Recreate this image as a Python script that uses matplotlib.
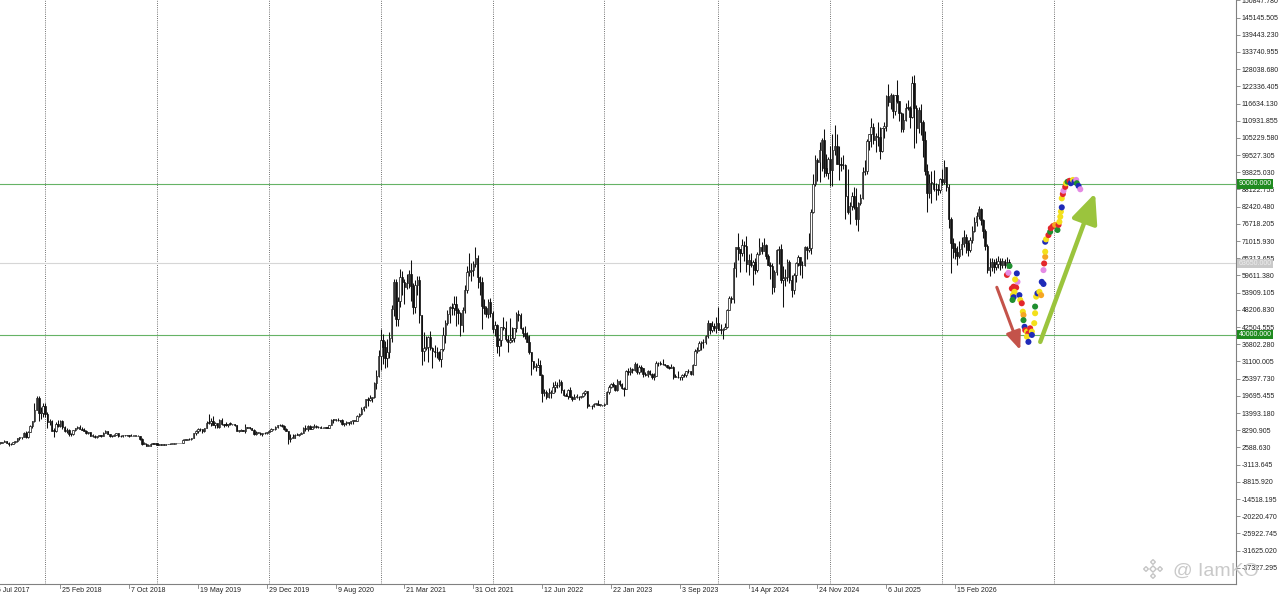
import numpy as np
import pandas as pd
import matplotlib
matplotlib.use("Agg")
import matplotlib.pyplot as plt
import matplotlib.transforms as mtrans
from matplotlib.patches import Polygon

# ---------------- data (weekly BTC candles, thousands USD) ----------------
start_date = "2017-08-06"
first_open = 3.25

close_2017 = [4.07,4.1,4.35,4.6,4.2,3.7,3.6,4.35,4.6,5.7,6.0,5.9,7.4,5.95,7.8,9.7,11.3,15.0,19.1,14.0,14.1,16.2]
high_2017 = [4.18,4.5,4.4,4.98,4.7,4.3,4.1,4.4,4.6,5.85,6.2,6.1,7.6,7.9,8.1,9.9,11.4,17.2,19.8,19.5,16.0,17.2]
low_2017 = [3.2,3.9,3.95,4.3,4.0,2.97,3.5,3.6,4.1,4.55,5.1,5.4,5.9,5.6,5.8,7.8,9.0,11.0,14.9,11.2,12.0,12.8]

close_2018 = [13.6,11.1,11.4,8.2,8.1,10.4,9.6,11.5,9.5,8.2,8.4,6.9,7.0,8.3,8.9,9.35,8.7,8.5,8.2,7.35,7.7,6.5,6.5,6.1,6.4,6.75,6.35,7.4,8.2,7.0,6.3,6.4,6.7,7.3,6.3,6.5,6.7,6.6,6.6,6.3,6.4,6.45,6.4,6.35,5.55,3.8,3.85,3.2,3.2,3.85,3.75,4.0]
high_2018 = [17.2,14.3,12.0,11.8,8.9,10.9,11.8,11.7,11.6,9.6,9.1,8.7,7.5,8.4,9.0,9.8,9.95,9.5,8.9,8.4,7.8,7.8,6.9,6.8,6.5,6.8,6.8,7.6,8.5,8.2,7.1,6.6,6.9,7.4,7.4,6.6,6.8,6.8,6.7,6.7,6.9,6.5,6.5,6.6,6.4,5.6,4.4,4.2,3.6,4.2,4.2,4.1]
low_2018 = [12.8,9.0,10.0,8.1,6.0,7.8,9.3,9.4,8.7,7.7,7.3,6.5,6.45,6.6,7.9,8.8,8.6,8.3,7.9,7.2,7.0,6.5,6.1,5.8,5.8,6.3,6.1,6.3,7.4,6.9,5.9,5.9,6.3,6.6,6.2,6.1,6.2,6.5,6.5,6.2,6.3,6.4,6.25,6.3,5.2,3.5,3.6,3.2,3.1,3.2,3.6,3.7]

close_2019 = [3.55,3.6,3.55,3.45,3.65,3.65,3.8,3.85,3.95,4.0,4.0,4.1,5.05,5.05,5.3,5.25,5.75,7.25,8.2,8.75,8.55,7.95,8.95,10.8,10.7,11.35,10.2,10.6,9.5,11.6,10.3,10.2,10.1,10.4,10.35,10.3,10.0,8.05,8.15,8.3,8.2,9.25,9.2,9.05,8.5,7.0,7.4,7.5,7.1,7.5,7.25,7.75]
high_2019 = [4.2,3.75,3.7,3.6,3.7,3.7,4.2,3.9,3.95,4.0,4.05,4.15,5.3,5.45,5.35,5.6,5.8,7.4,8.3,8.9,9.1,8.8,9.0,11.2,13.8,12.3,13.1,11.1,10.6,11.9,12.3,10.5,10.9,10.4,10.9,10.4,10.3,10.0,8.5,8.8,8.4,10.4,9.5,9.5,9.1,8.6,7.9,7.7,7.6,7.5,7.6,7.8]
low_2019 = [3.5,3.5,3.5,3.35,3.4,3.6,3.6,3.75,3.75,3.85,3.95,3.95,4.1,4.9,5.0,5.2,5.2,5.7,6.8,7.5,8.0,7.45,7.6,8.95,10.3,9.7,10.0,9.1,9.2,9.1,10.1,9.5,9.8,9.4,10.2,10.0,9.8,7.9,7.8,7.9,7.9,7.3,9.0,8.7,8.4,6.8,6.6,7.3,6.6,6.4,7.1,6.9]

close_2020 = [8.2,8.7,8.6,9.35,10.15,9.9,9.65,8.55,8.0,5.35,5.85,5.85,6.75,6.6,7.1,7.55,8.9,8.75,9.7,8.8,9.45,9.65,9.35,9.3,9.0,9.1,9.25,9.2,9.95,11.8,11.7,11.85,11.65,11.7,10.25,10.7,11.1,10.75,11.4,11.4,11.5,13.1,13.75,15.5,16.0,18.7,18.2,19.0,19.2,23.8,26.4,33.0]
high_2020 = [8.4,9.2,8.7,9.6,10.2,10.5,10.3,9.9,9.2,8.2,6.9,6.9,7.0,7.5,7.2,7.8,9.5,10.0,9.9,9.9,9.6,10.4,9.9,9.6,9.7,9.3,9.4,9.3,10.0,12.1,12.0,12.1,12.5,11.8,12.1,10.7,11.2,11.0,11.4,11.7,11.7,13.2,14.0,15.9,16.5,18.8,19.4,19.9,19.4,24.3,28.4,34.8]
low_2020 = [7.3,8.1,8.3,8.5,9.1,9.7,9.3,8.4,7.9,3.9,4.5,5.7,5.85,6.6,6.5,6.9,7.5,8.2,8.1,8.8,8.6,9.2,9.1,9.0,8.9,8.9,9.1,9.1,9.1,9.9,10.7,11.2,11.3,11.1,9.9,9.8,10.2,10.1,10.5,10.5,11.2,11.3,12.8,13.2,14.8,15.8,16.3,18.0,17.6,19.0,22.0,26.1]

close_2021 = [38.2,36.0,32.3,34.3,39.0,48.6,57.4,45.2,51.0,59.0,57.5,55.8,57.1,60.0,56.2,49.0,56.6,58.2,46.4,34.7,35.6,35.8,39.1,35.5,34.7,34.2,34.2,31.8,35.4,39.9,43.8,47.0,49.3,48.8,50.0,48.3,47.3,43.2,48.2,54.9,60.9,61.0,61.3,63.3,65.5,59.0,57.3,49.4,48.9,46.7,50.8,47.3]
high_2021 = [41.9,40.1,37.8,38.5,40.9,49.7,58.3,58.3,52.6,61.8,61.0,58.6,60.0,61.3,64.9,57.0,58.0,59.5,59.6,46.6,40.9,39.5,39.5,41.3,36.0,36.6,35.9,34.7,35.4,42.6,44.8,48.1,49.4,50.5,52.9,52.9,48.8,47.4,49.3,56.5,62.9,67.0,63.7,64.3,69.0,66.4,59.3,59.1,51.9,49.5,51.8,52.0]
low_2021 = [28.2,30.4,28.8,29.2,32.3,37.4,46.2,43.0,43.0,49.3,53.3,50.3,55.2,55.5,51.0,47.0,47.1,53.0,43.8,30.0,31.1,34.8,31.0,34.8,28.8,32.7,32.2,31.1,29.3,34.7,37.3,43.2,43.9,46.4,46.6,42.8,43.4,39.6,40.8,47.1,53.9,59.6,57.9,59.4,62.3,55.6,53.3,42.0,46.7,45.7,45.6,45.9]

close_2022 = [41.8,43.1,36.3,38.2,42.4,42.2,38.4,37.7,38.1,38.8,42.2,46.8,46.4,42.2,40.4,39.5,37.7,34.1,31.3,29.4,29.4,29.9,26.6,20.5,20.9,19.3,20.8,20.8,22.6,23.3,23.2,24.4,21.5,20.0,19.8,21.8,19.4,18.8,19.3,19.4,19.2,19.6,20.6,21.3,16.3,16.3,16.5,17.1,17.1,16.8,16.8,16.6]
high_2022 = [47.9,44.4,43.5,38.9,42.6,45.8,44.6,39.8,45.4,42.5,42.3,47.6,48.2,47.1,42.4,42.9,40.8,40.0,34.4,31.3,30.6,32.3,31.7,26.9,21.9,21.5,22.4,21.6,24.2,24.6,24.2,25.2,25.0,22.0,20.6,21.9,22.8,19.7,20.3,20.4,19.6,19.7,21.0,21.5,21.4,17.0,16.8,17.3,17.4,18.4,17.0,16.8]
low_2022 = [40.5,39.6,34.0,32.9,36.3,41.7,38.0,34.3,37.2,37.6,37.6,40.9,44.4,41.9,39.2,38.6,37.6,33.7,26.7,28.7,28.0,29.3,26.6,17.6,19.6,18.6,19.0,18.9,20.7,21.0,22.4,22.7,20.8,19.8,19.5,18.5,19.3,18.1,18.8,19.0,18.2,18.9,19.2,20.1,15.6,16.2,15.5,16.0,16.8,16.6,16.5,16.3]

close_2023 = [17.1,20.9,22.7,23.7,23.3,21.8,24.6,23.5,22.4,22.1,28.0,27.5,28.5,28.3,30.3,27.6,29.2,28.9,26.9,26.7,28.1,27.1,25.9,26.3,30.5,30.6,30.2,30.3,29.8,29.3,29.1,29.3,26.1,26.0,25.8,25.8,26.5,26.5,27.9,27.9,26.9,30.0,34.5,35.0,37.1,37.4,37.5,39.5,43.8,41.4,43.0,42.3,43.9]
high_2023 = [17.2,21.2,23.3,23.9,24.2,23.4,25.2,25.1,23.9,22.6,28.4,28.9,29.2,29.0,31.0,30.5,30.0,29.8,29.1,27.6,28.3,28.4,27.4,27.2,31.4,31.0,31.4,31.8,30.4,29.9,29.7,30.2,29.7,26.8,28.1,26.1,27.0,27.4,28.0,28.6,28.0,30.3,35.2,35.9,38.0,37.9,38.4,40.0,44.7,43.4,44.4,43.7,45.9]
low_2023 = [16.5,17.0,20.4,22.3,22.6,21.4,21.4,23.0,21.9,19.6,21.9,26.6,26.5,27.3,28.0,27.1,26.9,27.7,25.8,26.3,26.1,26.5,25.4,24.8,26.3,29.5,29.8,29.9,29.5,28.9,28.6,28.8,25.2,25.8,25.5,25.0,24.9,26.0,26.0,27.2,26.6,26.7,29.9,33.9,34.5,34.8,35.7,36.9,39.0,40.2,41.0,41.3,40.7]

close_2024 = [41.7,41.6,42.0,42.6,48.3,52.1,51.7,62.0,68.9,68.4,67.2,69.7,69.4,63.4,64.9,63.1,64.0,61.5,66.9,69.0,67.8,69.6,66.2,63.2,62.7,55.8,60.8,68.2,68.3,58.1,58.7,59.0,64.2,58.0,54.8,59.9,63.6,65.6,63.0,63.0,69.0,68.0,68.8,80.5,89.8,97.9,97.3,101.2,104.5,95.2,93.7,98.4]
high_2024 = [49.0,43.5,42.2,43.8,48.6,52.8,52.9,64.0,69.2,73.8,68.2,71.7,71.2,72.8,66.9,67.2,64.7,65.5,67.5,71.9,70.6,72.0,70.2,66.9,64.0,63.9,61.4,68.4,69.4,70.0,62.7,61.8,65.0,64.9,59.8,60.6,64.1,66.5,65.6,64.5,69.4,69.5,73.6,81.5,93.4,99.5,98.7,104.0,105.2,108.3,99.9,98.9]
low_2024 = [41.5,40.3,38.5,41.9,42.2,48.3,50.6,50.5,59.0,64.6,60.8,66.0,64.5,60.7,59.7,62.5,56.6,60.2,60.7,66.5,66.8,67.8,65.1,63.4,58.4,53.5,54.3,59.9,63.4,57.1,49.0,56.1,57.8,57.2,52.5,53.6,57.5,62.7,59.8,58.9,62.6,65.1,67.5,66.8,80.2,89.3,90.8,90.5,94.2,92.2,92.5,91.5]

close_2025 = [94.5,101.3,102.6,96.5,96.5,96.1,96.3,86.1,80.7,82.6,86.1,82.3,78.4,83.7,85.2,93.8,94.3,104.2,106.5,109.0,104.6,105.8,105.6,100.9,108.4,109.2,119.1,117.3,119.4,114.2,119.3,117.4,113.5,108.2,111.1,115.3,115.2,112.2,123.5,115.2,108.6,114.5,110.5,104.7,94.4,86.8,90.4,90.3,88.3,88.2,87.8,91.5]
high_2025 = [102.5,106.4,109.6,106.4,102.5,98.8,99.5,96.5,95.0,84.0,87.4,88.8,88.5,84.0,86.5,95.7,97.9,104.8,106.6,111.9,110.3,106.8,110.6,108.9,108.5,110.5,119.5,123.2,120.2,119.8,119.3,124.5,117.6,113.7,113.4,116.7,117.9,115.8,125.7,126.2,116.0,115.5,116.4,111.2,107.5,96.6,93.1,94.2,94.6,90.4,90.0,92.0]
low_2025 = [89.3,89.3,99.5,97.8,91.2,94.1,94.9,78.2,80.0,76.6,81.2,81.6,76.2,74.5,83.0,85.1,92.8,93.4,101.3,102.1,103.1,100.4,102.6,98.2,100.4,105.3,107.5,115.7,114.7,111.9,112.7,116.8,110.7,107.3,107.3,110.9,114.4,108.6,111.9,102.0,103.5,106.9,106.3,98.9,93.0,80.6,85.4,83.8,87.6,84.5,86.4,86.8]

close_2026 = [90.5,95.5,89.0,78.5,70.5,68.8,67.5,66.0,68.5,70.0,72.5,70.5,68.0,71.5,74.5,77.5,79.5,81.5,78.0,74.5,69.5,61.5,62.5,64.0,62.5,63.5,64.5,63.0,64.5,63.0,64.2,63.65]
high_2026 = [94.8,97.9,95.5,90.0,79.0,72.0,70.5,69.5,71.0,72.5,74.6,73.5,71.5,72.5,76.0,79.0,80.5,82.5,82.0,78.5,75.0,70.0,65.5,65.5,65.0,65.5,66.0,65.5,65.5,65.0,65.8,65.0]
low_2026 = [89.5,90.0,87.5,75.5,60.3,65.5,65.0,63.0,65.5,66.5,69.0,67.0,66.0,67.5,70.5,74.0,76.0,78.5,76.5,72.0,68.0,60.3,59.5,61.0,60.5,61.5,62.0,61.5,62.0,62.0,62.2,62.3]

# forecast dots: weeks after 2026-01-04, price (thousands), colour code
forecast_origin = "2026-01-04"
dot_week = [31.3,30.1,30.8,34.7,35.0,33.9,32.4,33.2,34.4,33.6,32.9,33.2,32.7,35.9,36.3,37.0,37.5,37.8,37.8,38.3,38.6,39.4,40.1,40.9,41.7,39.4,40.1,41.7,42.8,43.2,43.2,43.7,44.3,45.2,46.0,46.3,47.1,47.1,47.4,47.9,47.9,47.9,48.3,49.4,50.2,50.5,51.5,52.5,53.6,54.1,54.5,54.9,55.2,55.6,55.6,56.1,56.4,57.2,57.6,58.3,59.2,59.8,60.8,61.5,62.3,62.6,63.4,64.2]
dot_price = [62.75,59.8,60.5,60.3,57.5,58.3,55.3,55.9,55.6,54.2,53.1,52.4,51.5,53.1,51.5,50.4,47.6,46.5,44.8,42.6,41.5,41.0,40.4,42.1,41.0,39.3,37.6,39.9,43.8,47.1,49.3,52.6,53.7,54.2,53.1,57.5,56.8,61.4,63.6,65.8,67.5,70.8,71.6,73.0,74.1,75.3,76.0,76.4,74.7,76.4,77.4,79.1,80.8,82.2,85.2,86.6,87.7,89.0,90.2,90.7,91.0,90.2,91.3,90.7,91.3,90.2,89.3,88.2]
dot_color = list("grpbpyrrryybgbyryogbryrryybbyygybyobbproybyrgrrogryyybyrprygrbybpgbp")
dot_palette = {"r": "#e3262b", "y": "#f3e01b", "b": "#1f2bb8", "g": "#1f8f2f",
               "p": "#e48ae4", "o": "#f5a623"}

# arrows (weeks after 2026-01-04, price thousands)
arrow_down_from, arrow_down_to = (25.4, 55.7), (36.3, 34.9)
arrow_up_from, arrow_up_to = (45.6, 37.6), (71.1, 86.9)

support_levels = [90000, 40000]
ytick_top, ytick_step, ytick_count = 150847.780, 5702.275, 34
xlabel_first, xlabel_every, xlabel_count = "2017-07-16", 32, 15
last_separator_year = 2027

# ---------------- assemble ----------------
closes = np.array(close_2017 + close_2018 + close_2019 + close_2020 + close_2021 +
                  close_2022 + close_2023 + close_2024 + close_2025 + close_2026) * 1000
highs = np.array(high_2017 + high_2018 + high_2019 + high_2020 + high_2021 +
                 high_2022 + high_2023 + high_2024 + high_2025 + high_2026) * 1000
lows = np.array(low_2017 + low_2018 + low_2019 + low_2020 + low_2021 +
                low_2022 + low_2023 + low_2024 + low_2025 + low_2026) * 1000
n = len(closes)
opens = np.concatenate([[first_open * 1000], closes[:-1]])
highs = np.maximum(highs, np.maximum(opens, closes))
lows = np.minimum(lows, np.minimum(opens, closes))
x = np.arange(n)
t0 = pd.Timestamp(start_date)

def week_index(d):
    return (pd.Timestamp(d) - t0).days / 7.0

origin_idx = week_index(forecast_origin)

# ---------------- figure ----------------
W, H = 1280, 596
fig = plt.figure(figsize=(W / 100, H / 100), dpi=100)
ax = fig.add_axes([0, 12 / H, 1236 / W, 584 / H])
ax.set_xlim(0.97, 575.6)
ax.set_ylim(-42680, 150954)

for s in ("top", "left"):
    ax.spines[s].set_visible(False)
for s in ("right", "bottom"):
    ax.spines[s].set_color("#808080")
    ax.spines[s].set_linewidth(0.8)

# year separators (first weekly bar of each year)
all_dates = pd.date_range(t0, periods=n + 80, freq="7D")
years = all_dates.year
for i in range(1, len(all_dates)):
    if years[i] != years[i - 1] and years[i] <= last_separator_year:
        ax.axvline(i, color="#444444", lw=0.6, ls=(0, (1, 1.6)), zorder=1)

# levels
lab_tr = mtrans.blended_transform_factory(ax.transAxes, ax.transData)
for lv in support_levels:
    ax.axhline(lv, color="#66b366", lw=0.8, zorder=2)
    ax.text(1.002, lv, f"{lv:.3f}", transform=lab_tr,
            ha="left", va="center", fontsize=5, color="white", family="Liberation Sans",
            bbox=dict(boxstyle="square,pad=0.18", fc="#1f8a1f", ec="none"), clip_on=False, zorder=6)
cur = closes[-1]
ax.axhline(cur, color="#d6d6d6", lw=0.8, zorder=2)
ax.text(1.002, cur, f"{cur:.3f}", transform=lab_tr,
        ha="left", va="center", fontsize=5, color="#eeeeee", family="Liberation Sans",
        bbox=dict(boxstyle="square,pad=0.18", fc="#c9c9c9", ec="none"), clip_on=False, zorder=6)

# candles
ax.vlines(x, lows, highs, color="#111111", lw=0.75, zorder=3)
up = closes >= opens
body_bot = np.minimum(opens, closes)
body_h = np.maximum(np.abs(closes - opens), 200)
ax.bar(x[up], body_h[up], bottom=body_bot[up], width=0.7, color="white",
       edgecolor="#111111", linewidth=0.5, zorder=4)
ax.bar(x[~up], body_h[~up], bottom=body_bot[~up], width=0.7, color="#111111",
       edgecolor="#111111", linewidth=0.5, zorder=4)

# forecast dots
ax.scatter(origin_idx + np.array(dot_week), np.array(dot_price) * 1000,
           c=[dot_palette[c] for c in dot_color], s=19, linewidths=0, zorder=7)

# arrows
ax.annotate("", xy=(origin_idx + arrow_down_to[0], arrow_down_to[1] * 1000),
            xytext=(origin_idx + arrow_down_from[0], arrow_down_from[1] * 1000),
            arrowprops=dict(arrowstyle="-|>,head_length=1.1,head_width=0.45", color="#c4534a",
                            lw=2.2, mutation_scale=10, shrinkA=0, shrinkB=0), zorder=8)
ax.annotate("", xy=(origin_idx + arrow_up_to[0], arrow_up_to[1] * 1000),
            xytext=(origin_idx + arrow_up_from[0], arrow_up_from[1] * 1000),
            arrowprops=dict(arrowstyle="-|>,head_length=1.8,head_width=0.8", color="#9bc43d",
                            lw=3.2, mutation_scale=10, shrinkA=0, shrinkB=0), zorder=8)

# y axis
ax.yaxis.tick_right()
yt = ytick_top - ytick_step * np.arange(ytick_count)
ax.set_yticks(yt)
ax.set_yticklabels([f"{v:.3f}" for v in yt], fontsize=5, color="#222222", family="Liberation Sans")
ax.tick_params(axis="y", direction="out", length=3, width=0.6, color="#808080", pad=1)

# x axis (manual labels, left aligned at tick)
ax.set_xticks([])
bt = mtrans.blended_transform_factory(ax.transData, ax.transAxes)
for k in range(xlabel_count):
    d = pd.Timestamp(xlabel_first) + pd.Timedelta(weeks=xlabel_every * k)
    xi = week_index(d)
    ax.plot([xi, xi], [0, -4 / 584], transform=bt, color="#808080", lw=0.6, clip_on=False)
    ax.annotate(f"{d.day} {d.strftime('%b')} {d.year}", xy=(xi, 0), xycoords=bt,
                xytext=(2, -6), textcoords="offset pixels", ha="left", va="center",
                fontsize=5, color="#222222", family="Liberation Sans", annotation_clip=False)

# watermark
fig.text(1173 / W, 1 - 571 / H, "@ IamKO", fontsize=14, color="#c4c4c4", alpha=0.9,
         family="Liberation Sans", ha="left", va="center", zorder=20)
cx, cy = 1153, 569
def diamond(x0, y0, r):
    return [((x0) / W, 1 - (y0 - r) / H), ((x0 + r) / W, 1 - y0 / H),
            ((x0) / W, 1 - (y0 + r) / H), ((x0 - r) / W, 1 - y0 / H)]
for (dx, dy, r) in [(0, 0, 3.2), (0, -7, 2.4), (0, 7, 2.4), (-7, 0, 2.4), (7, 0, 2.4)]:
    fig.patches.append(Polygon(diamond(cx + dx, cy + dy, r), closed=True, fill=False,
                               ec="#c4c4c4", lw=1.0, transform=fig.transFigure, zorder=20))

fig.savefig("out.png", dpi=100, facecolor="white")
